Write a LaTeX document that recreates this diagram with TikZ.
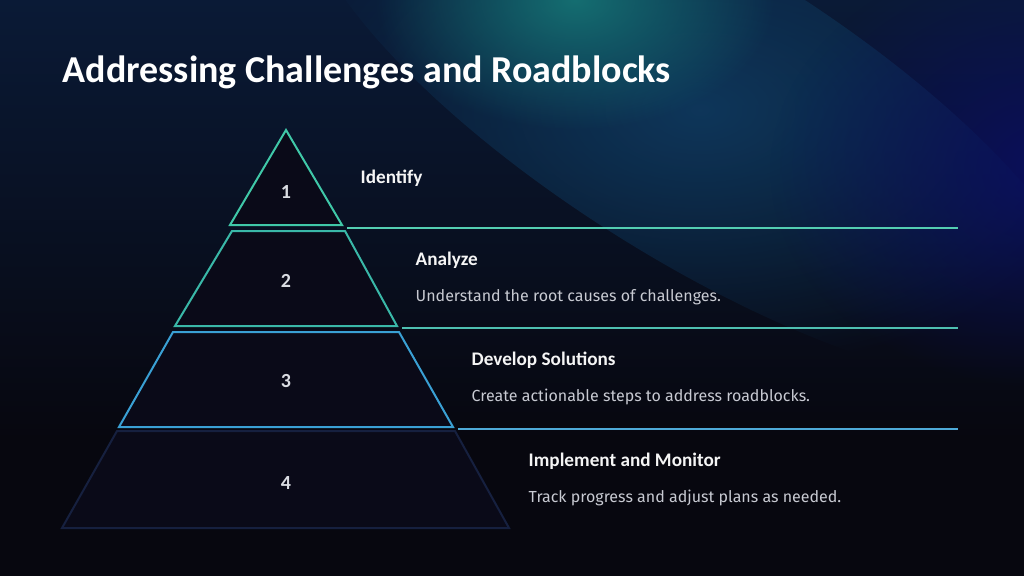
\documentclass[tikz,border=0pt]{standalone}
\usepackage{fontspec}
\setmainfont{Fira Sans}
\newfontfamily\headfont{Carlito}
\usetikzlibrary{fadings}
\tikzfading[name=glowfade,inner color=transparent!0,outer color=transparent!100]
\definecolor{bgdark}{HTML}{07070F}
\definecolor{bgtop}{HTML}{0A1A36}
\definecolor{glowteal}{HTML}{167A78}
\definecolor{glowband}{HTML}{0F3C62}
\definecolor{glowblue}{HTML}{0B0E66}
\definecolor{tierfill}{HTML}{0A0A18}
\definecolor{edgeone}{HTML}{40C8A8}
\definecolor{edgetwo}{HTML}{3AB8A8}
\definecolor{edgethree}{HTML}{3AA0D4}
\definecolor{edgefour}{HTML}{16203F}
\definecolor{descgray}{HTML}{C8CAD2}
\definecolor{numgray}{HTML}{DADCE2}
\begin{document}
\begin{tikzpicture}[x=0.75pt,y=-0.75pt,
  tier/.style={fill=tierfill,line width=1.5pt,line join=miter},
  sep/.style={line width=1.3pt},
  glow/.style={path fading=glowfade},
  num/.style={font=\headfont\bfseries\fontsize{15}{18}\selectfont,text=numgray},
  head/.style={anchor=west,font=\headfont\bfseries\fontsize{14.4}{17}\selectfont,text=white!92!gray},
  desc/.style={anchor=west,font=\fontsize{12}{14}\selectfont,text=descgray}]
  % background
  \useasboundingbox (0,0) rectangle (1024,576);
  \shade[top color=bgtop,bottom color=bgdark] (0,0) rectangle (1024,440);
  \fill[bgdark] (0,439) rectangle (1024,576);
  \begin{scope}
    \clip (0,0) rectangle (1024,576);
    \begin{scope}[shift={(700,110)},rotate=-32]
      \fill[glowband,glow,opacity=.85] (0,0) ellipse (460 and 150);
    \end{scope}
    \fill[glowteal,glow,opacity=.85] (575,0) ellipse (200 and 130);
    \fill[glowblue,glow,opacity=.85] (1050,170) ellipse (280 and 220);
  \end{scope}
  \node[anchor=west,font=\headfont\bfseries\fontsize{28.5}{34}\selectfont,text=white] (title) at (58,72) {Addressing Challenges and Roadblocks};
  % pyramid tiers
  \draw[tier,draw=edgeone] (286,130) -- (342,225) coordinate (r1) -- (230,225) -- cycle;
  \draw[tier,draw=edgetwo] (232,231) -- (345,231) -- (397,326) coordinate (r2) -- (175,326) -- cycle;
  \draw[tier,draw=edgethree] (173,332) -- (399,332) -- (453,427) coordinate (r3) -- (119,427) -- cycle;
  \draw[tier,draw=edgefour] (117,431) -- (455,431) -- (509,528) -- (62,528) -- cycle;
  \node[num] (n1) at (286,192) {1};
  \node[num] (n2) at (286,281) {2};
  \node[num] (n3) at (286,381) {3};
  \node[num] (n4) at (286,483) {4};
  % separators
  \coordinate (e1) at (958,228);
  \coordinate (e2) at (958,328);
  \coordinate (e3) at (958,429);
  \draw[sep,draw=edgeone!90!white] ([xshift=4pt]r1 |- e1) -- (e1);
  \draw[sep,draw=edgetwo!90!white] ([xshift=4pt]r2 |- e2) -- (e2);
  \draw[sep,draw=edgethree!90!white] ([xshift=4pt]r3 |- e3) -- (e3);
  % labels
  \node[head] (h1) at (356,178) {Identify};
  \node[head] (h2) at (411,260) {Analyze};
  \node[desc] (d2) at (411,297) {Understand the root causes of challenges.};
  \node[head] (h3) at (467,360) {Develop Solutions};
  \node[desc] (d3) at (467,397) {Create actionable steps to address roadblocks.};
  \node[head] (h4) at (524,461) {Implement and Monitor};
  \node[desc] (d4) at (524,498) {Track progress and adjust plans as needed.};
\end{tikzpicture}
\end{document}
